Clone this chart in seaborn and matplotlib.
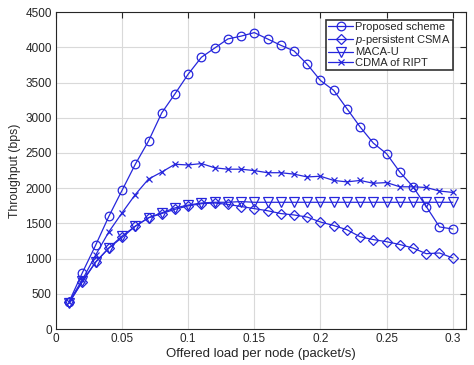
import numpy as np
import pandas as pd
import matplotlib
matplotlib.use('Agg')
import matplotlib.pyplot as plt
import seaborn as sns

# %% data
load = [round(0.01 * i, 2) for i in range(1, 31)]

proposed = [390, 800, 1190, 1600, 1970, 2340, 2670, 3070, 3340, 3620,
            3860, 3990, 4120, 4160, 4210, 4120, 4030, 3950, 3760, 3530,
            3390, 3130, 2870, 2640, 2490, 2230, 2020, 1740, 1450, 1420]
csma = [380, 670, 950, 1150, 1300, 1460, 1580, 1640, 1700, 1750,
        1780, 1790, 1770, 1740, 1710, 1680, 1640, 1620, 1590, 1520,
        1470, 1410, 1310, 1270, 1240, 1200, 1150, 1070, 1080, 1010]
maca = [370, 680, 950, 1150, 1320, 1460, 1580, 1650, 1720, 1760,
        1790, 1800, 1800, 1810, 1800, 1800, 1800, 1800, 1800, 1800,
        1800, 1800, 1800, 1800, 1800, 1800, 1800, 1800, 1800, 1800]
cdma = [390, 700, 1050, 1380, 1650, 1910, 2130, 2230, 2340, 2330,
        2350, 2290, 2270, 2270, 2250, 2220, 2220, 2200, 2160, 2170,
        2110, 2090, 2110, 2070, 2080, 2020, 2020, 2010, 1960, 1940]

series_names = ['Proposed scheme', '$p$-persistent CSMA', 'MACA-U', 'CDMA of RIPT']
series_values = [proposed, csma, maca, cdma]
markers = ['o', 'D', 'v', 'x']
sizes = [6.2, 5.3, 6.8, 5]

x_ticks = [0, 0.05, 0.1, 0.15, 0.2, 0.25, 0.3]
x_tick_labels = ['0', '0.05', '0.1', '0.15', '0.2', '0.25', '0.3']
y_ticks = list(range(0, 4501, 500))

# %% plot
sns.set_style('white')
plt.rcParams['font.family'] = ['Liberation Sans', 'DejaVu Sans']
plt.rcParams['mathtext.fontset'] = 'custom'
plt.rcParams['mathtext.it'] = 'Liberation Sans:italic'
plt.rcParams['mathtext.rm'] = 'Liberation Sans'

color = '#2626dc'
fig = plt.figure(figsize=(4.74, 3.65), dpi=100)
ax = fig.add_axes([0.118, 0.0986, 0.865, 0.868])

for name, vals, m, s in zip(series_names, series_values, markers, sizes):
    df = pd.DataFrame({'load': load, 'thr': vals})
    sns.lineplot(data=df, x='load', y='thr', ax=ax, color=color,
                 linewidth=0.9, marker=m, markersize=s,
                 markerfacecolor='none', markeredgecolor=color,
                 markeredgewidth=0.9, label=name)

ax.set_xlim(0, 0.31)
ax.set_ylim(0, 4500)
ax.set_xticks(x_ticks)
ax.set_xticklabels(x_tick_labels)
ax.set_yticks(y_ticks)
ax.grid(True, color='#d9d9d9', linewidth=0.8)
ax.tick_params(direction='in', top=True, right=True, labelsize=8.5,
               length=4, width=0.8, colors='#262626', pad=3)
for sp in ax.spines.values():
    sp.set_color('#262626')
    sp.set_linewidth(0.8)
ax.set_xlabel('Offered load per node (packet/s)', fontsize=9.5, labelpad=2)
ax.set_ylabel('Throughput (bps)', fontsize=8.8, labelpad=3)

leg = ax.legend(loc='upper right', bbox_to_anchor=(0.968, 0.975),
                fontsize=8, frameon=True, fancybox=False,
                edgecolor='black', borderpad=0.2, labelspacing=0.05,
                handlelength=2.2, handletextpad=0.2, borderaxespad=0)
leg.get_frame().set_linewidth(1.2)

fig.savefig('out.png', dpi=100)
